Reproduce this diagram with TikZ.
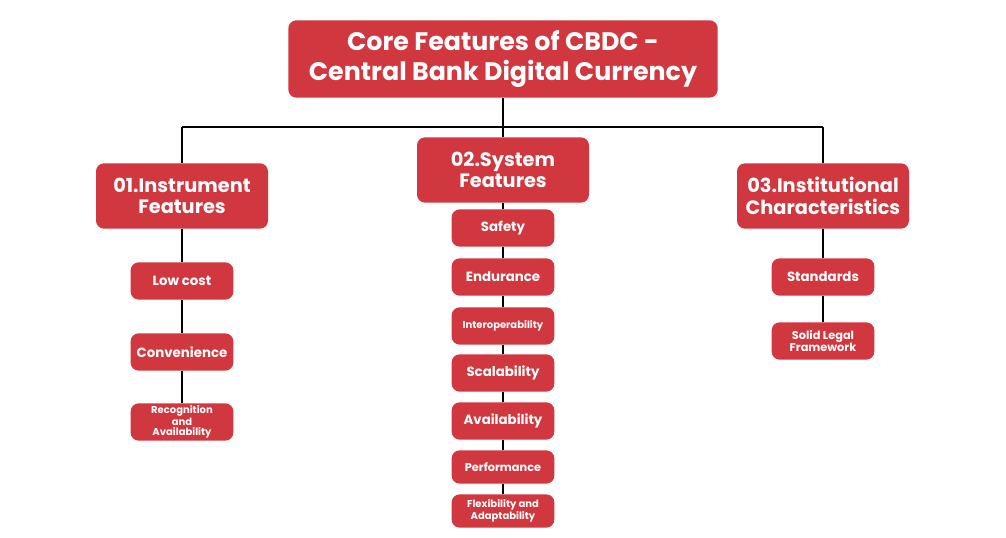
\documentclass[tikz,border=0pt]{standalone}
\usepackage{fontspec}
\setmainfont{Poppins}
\definecolor{cbred}{HTML}{D1373F}
\begin{document}
\begin{tikzpicture}
          [x=0.75pt,y=-0.75pt,
           box/.style={fill=cbred, rounded corners=6pt, text=white, align=center, font=\bfseries, inner sep=0pt},
           head/.style={box, minimum width=129pt, minimum height=49pt, font=\bfseries\fontsize{14.5}{16}\selectfont},
           leaf/.style={box, minimum width=77pt, minimum height=28pt, font=\bfseries\fontsize{10}{11}\selectfont},
           tiny/.style={leaf, font=\bfseries\fontsize{7.5}{7.5}\selectfont},
           link/.style={line width=1.5pt}]
        \useasboundingbox (0,0) rectangle (1006,538);

        \node[box, minimum width=322pt, minimum height=58pt, font=\bfseries\fontsize{19}{22}\selectfont] (core) at (503,59) {Core Features of CBDC -\\Central Bank Digital Currency};

        \node[head] (inst) at (182,196) {01.Instrument\\Features};
        \node[head] (syst) at (503,170) {02.System\\Features};
        \node[head] (itut) at (823,196) {03.Institutional\\Characteristics};

        \coordinate (jc) at (503,127);
        \coordinate (ji) at (182,127);
        \coordinate (jt) at (823,127);

        % column 1
        \node[leaf] (lowc) at (182,281) {Low cost};
        \node[leaf] (conv) at (182,352) {Convenience};
        \node[tiny] (reco) at (182,422) {Recognition\\and\\Availability};

        % column 2
        \node[leaf] (safe) at (503,228) {Safety};
        \node[leaf] (endu) at (503,277) {Endurance};
        \node[tiny] (intr) at (503,326) {Interoperability};
        \node[leaf] (scal) at (503,373) {Scalability};
        \node[leaf] (avai) at (503,421) {Availability};
        \node[leaf, font=\bfseries\fontsize{8.5}{9}\selectfont, minimum height=25pt] (perf) at (503,467) {Performance};
        \node[tiny, minimum height=25pt] (flex) at (503,511) {Flexibility and\\Adaptability};

        % column 3
        \node[leaf] (stan) at (823,277) {Standards};
        \node[leaf, font=\bfseries\fontsize{8.5}{9.5}\selectfont] (soli) at (823,341) {Solid Legal\\Framework};

        \begin{scope}[on background layer/.try]
        \end{scope}
        \draw[link] (core) -- (jc);
        \draw[link] (ji) -- (jt);
        \draw[link] (ji) -- (inst);
        \draw[link] (jt) -- (itut);
        \draw[link] (jc) -- (syst);

        \foreach \from/\to in {inst/lowc, lowc/conv, conv/reco, syst/safe, safe/endu, endu/intr, intr/scal, scal/avai, avai/perf, perf/flex, itut/stan, stan/soli}
          \draw[link] (\from) -- (\to);
      \end{tikzpicture}
\end{document}
